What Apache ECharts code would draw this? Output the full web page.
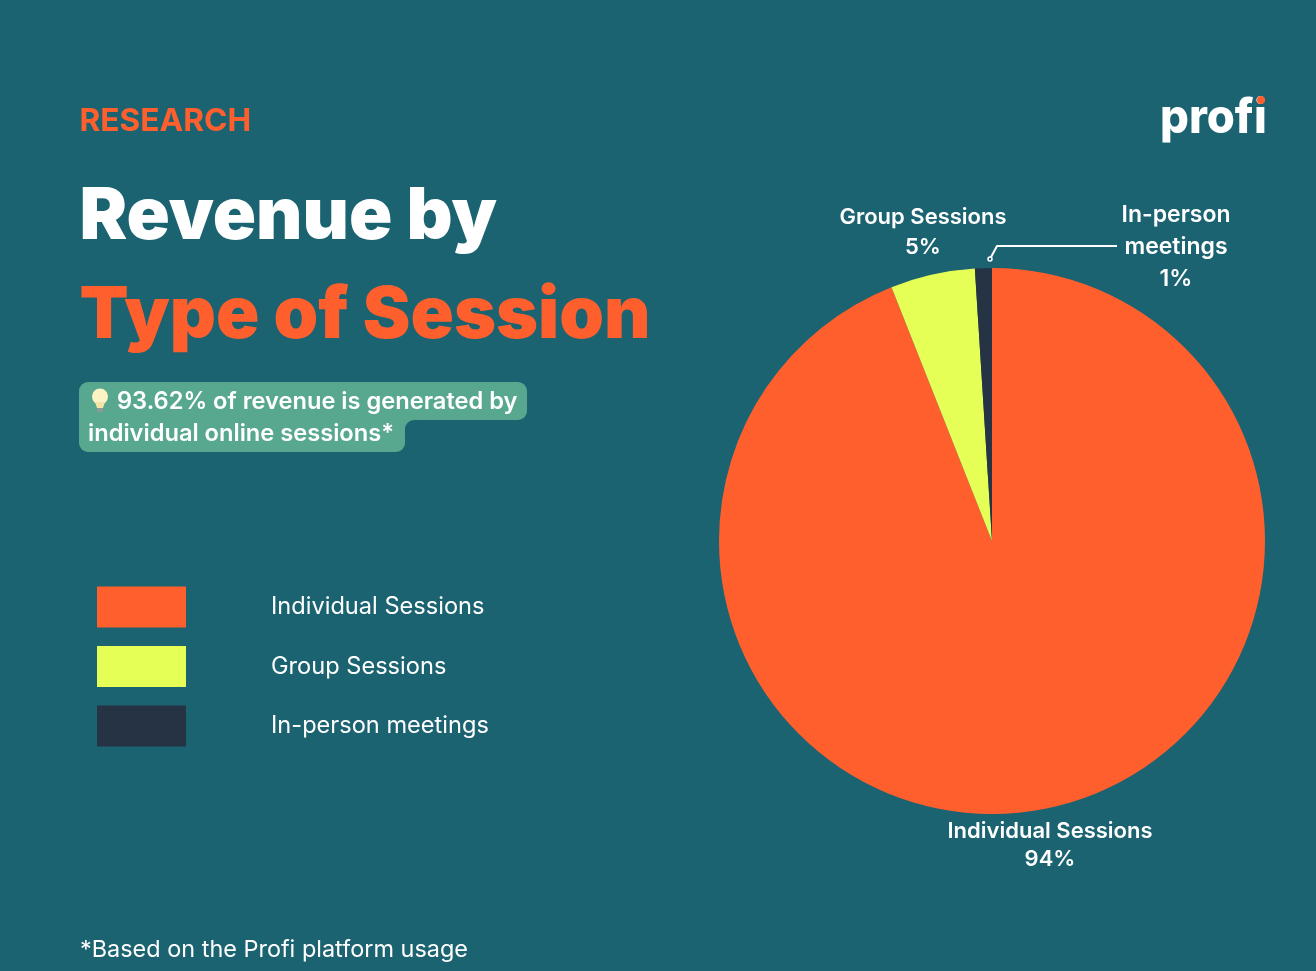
<!DOCTYPE html>
<html>
<head>
<meta charset="utf-8">
<style>html,body{margin:0;padding:0;background:#1b6371}#chart{width:1316px;height:971px}</style>
<script src="https://cdn.jsdelivr.net/npm/echarts@6/dist/echarts.min.js"></script>
</head>
<body>
<div id="chart"></div>
<script>
// Revenue split by session type
const categories = ['Individual Sessions', 'Group Sessions', 'In-person meetings'];
const revenueShare = [94, 5, 1];
const sliceColors = ['#ff5f2d', '#e6ff57', '#263345'];
const labelNames = ['Individual Sessions', 'Group Sessions', 'In-person\nmeetings'];
const labelAnchors = [[1050, 845.5], [923, 232.5], [1176, 247]];
const labelLeading = [28, 30, 32];
const labelSizes = [22, 22, 23];

const FONT = 'Inter';
const WHITE = '#ffffff';
const ORANGE = '#ff5f2d';
const BADGE = '#58a88f';
const PAGE = '#1b6371';

function txt(x, y, text, size, weight, fill) {
  return { type: 'text', x, y, silent: true, style: {
    text, fontFamily: FONT, fontSize: size, fontWeight: weight, fill,
    textAlign: 'left', textVerticalAlign: 'middle'
  }};
}

const chart = echarts.init(document.getElementById('chart'), null, { renderer: 'canvas' });
chart.setOption({
  animation: false,
  backgroundColor: PAGE,
  color: sliceColors,
  legend: {
    orient: 'vertical', left: 97, top: 586.5, padding: 0,
    itemWidth: 89, itemHeight: 41, itemGap: 18.5,
    icon: 'rect', selectedMode: false,
    data: categories,
    textStyle: { color: WHITE, fontFamily: FONT, fontSize: 23.6, fontWeight: 400, padding: [0, 0, 0, 80] }
  },
  series: [{
    type: 'pie',
    center: [992, 541],
    radius: [0, 273],
    startAngle: 90,
    clockwise: true,
    silent: true,
    data: categories.map((name, i) => ({
      name, value: revenueShare[i], itemStyle: { color: sliceColors[i] },
      label: { fontSize: labelSizes[i], lineHeight: labelLeading[i] }
    })),
    label: {
      show: true, position: 'outside', color: WHITE,
      fontFamily: FONT, fontWeight: 600, align: 'center',
      formatter: p => `${labelNames[p.dataIndex]}\n${p.percent}%`
    },
    labelLine: { show: false },
    labelLayout: p => ({
      x: labelAnchors[p.dataIndex][0], y: labelAnchors[p.dataIndex][1],
      align: 'center', verticalAlign: 'middle'
    })
  }],
  graphic: [
    txt(79.5, 121, 'RESEARCH', 31.7, 700, ORANGE),
    txt(79.5, 217, 'Revenue by', 71.5, 900, WHITE),
    txt(79.5, 316, 'Type of Session', 71.6, 900, ORANGE),

    // highlight behind the two-line note, with a concave step between the lines
    { type: 'rect', silent: true, shape: { x: 79, y: 382, width: 448, height: 38, r: [9, 9, 9, 0] }, style: { fill: BADGE } },
    { type: 'rect', silent: true, shape: { x: 79, y: 419, width: 326, height: 33, r: [0, 0, 9, 9] }, style: { fill: BADGE } },
    { type: 'rect', silent: true, shape: { x: 405, y: 419, width: 9, height: 10 }, style: { fill: BADGE } },
    { type: 'circle', silent: true, shape: { cx: 414, cy: 429, r: 9 }, style: { fill: PAGE } },
    // bulb icon
    { type: 'circle', silent: true, shape: { cx: 100, cy: 396.5, r: 8 }, style: { fill: '#fdf3c4' } },
    { type: 'polygon', silent: true, shape: { points: [[95, 402], [105, 402], [103, 408], [97, 408]] }, style: { fill: '#f5e6a8' } },
    { type: 'rect', silent: true, shape: { x: 97, y: 408, width: 6, height: 4, r: 1 }, style: { fill: '#8d9a9a' } },
    txt(117, 402, '93.62% of revenue is generated by', 23.65, 600, WHITE),
    txt(88, 434, 'individual online sessions*', 23.65, 600, WHITE),

    txt(80, 950, '*Based on the Profi platform usage', 23.45, 400, WHITE),

    // wordmark
    { type: 'text', x: 1160, y: 119, silent: true, scaleX: 0.945, originX: 0, originY: 0,
      style: { text: 'profi', fontFamily: FONT, fontSize: 48, fontWeight: 800, fill: WHITE,
               textAlign: 'left', textVerticalAlign: 'middle' } },
    { type: 'circle', silent: true, shape: { cx: 1261, cy: 100, r: 4 }, style: { fill: ORANGE } },

    // leader for the smallest slice
    { type: 'polyline', silent: true,
      shape: { points: [[990, 259], [997, 246], [1117, 246]] },
      style: { stroke: WHITE, lineWidth: 2, fill: 'none' } },
    { type: 'circle', silent: true, shape: { cx: 990, cy: 259, r: 2 },
      style: { fill: PAGE, stroke: WHITE, lineWidth: 1.5 } }
  ]
});
</script>
</body>
</html>
